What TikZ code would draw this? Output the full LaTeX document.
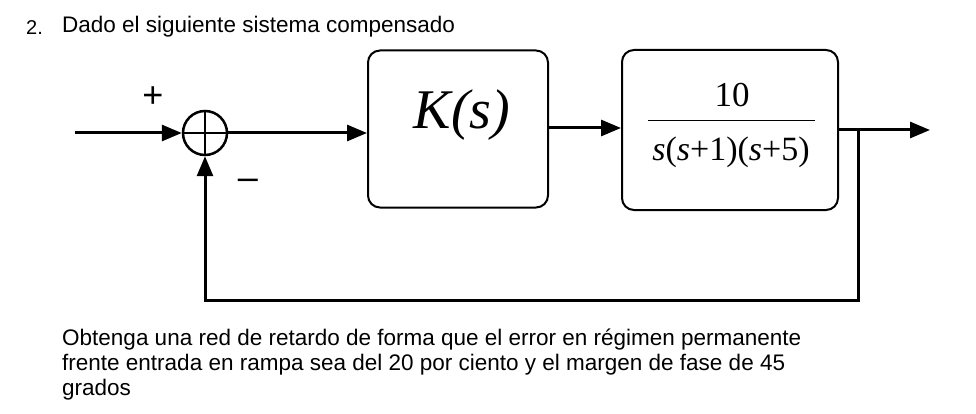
\documentclass[tikz,border=0pt]{standalone}
\usepackage{fontspec}
\setmainfont{Liberation Sans}
\newfontfamily\tms{Liberation Serif}
\usetikzlibrary{arrows.meta}
\begin{document}
\begin{tikzpicture}[x=1pt,y=-1pt,
  wire/.style={line width=3pt,-{Triangle[length=20pt,width=16pt]}},
  blk/.style={draw,line width=2pt,rounded corners=12pt,inner sep=0pt},
  txt/.style={anchor=west,font=\fontsize{22.5}{26}\selectfont,inner sep=0pt}]
\useasboundingbox (0,0) rectangle (976,414);
\node[txt,font=\fontsize{20}{24}\selectfont] (num) at (26,28) {2.};
\node[txt] (title) at (62,27) {Dado el siguiente sistema compensado};
\node[draw,circle,line width=2.5pt,minimum size=44pt,inner sep=0pt] (sum) at (205,133) {};
\draw[line width=2.5pt] (sum.north) -- (sum.south) (sum.west) -- (sum.east);
\node[blk,minimum width=180pt,minimum height=157pt] (K) at (458,129) {};
\node[font=\tms\itshape\fontsize{56}{60}\selectfont] (Kt) at (462,115) {K(s)};
\node[blk,minimum width=216pt,minimum height=160pt] (G) at (730,130) {};
\node[font=\tms\fontsize{35}{38}\selectfont] (Gn) at (732,95) {10};
\node[font=\tms\fontsize{34}{36}\selectfont] (Gd) at (731,152) {\textit{s}(\textit{s}+1)(\textit{s}+5)};
\draw[line width=1pt] (648,121) -- (815,121);
\coordinate (in) at (75,133);
\coordinate (out) at (930,130);
\coordinate (br) at (858,130);
\coordinate (c1) at (858,300);
\coordinate (c2) at (205,300);
\draw[wire] (in) -- (sum.west);
\draw[wire] (sum.east) -- (K.west |- sum.east);
\draw[wire] (K.east |- 0,128) -- (G.west |- 0,128);
\draw[wire] (G.east |- br) -- (out);
\draw[wire] (br) -- (c1) -- (c2) -- (sum.south);
\node[font=\fontsize{36}{36}\selectfont] (plus) at (153,97) {+};
\node[font=\fontsize{36}{36}\selectfont] (minus) at (248,184) {\textendash};
\node[txt] (b1) at (62,340) {Obtenga una red de retardo de forma que el error en régimen permanente};
\node[txt] (b2) at (62,365) {frente entrada en rampa sea del 20 por ciento y el margen de fase de 45};
\node[txt] (b3) at (62,390) {grados};
\end{tikzpicture}
\end{document}
